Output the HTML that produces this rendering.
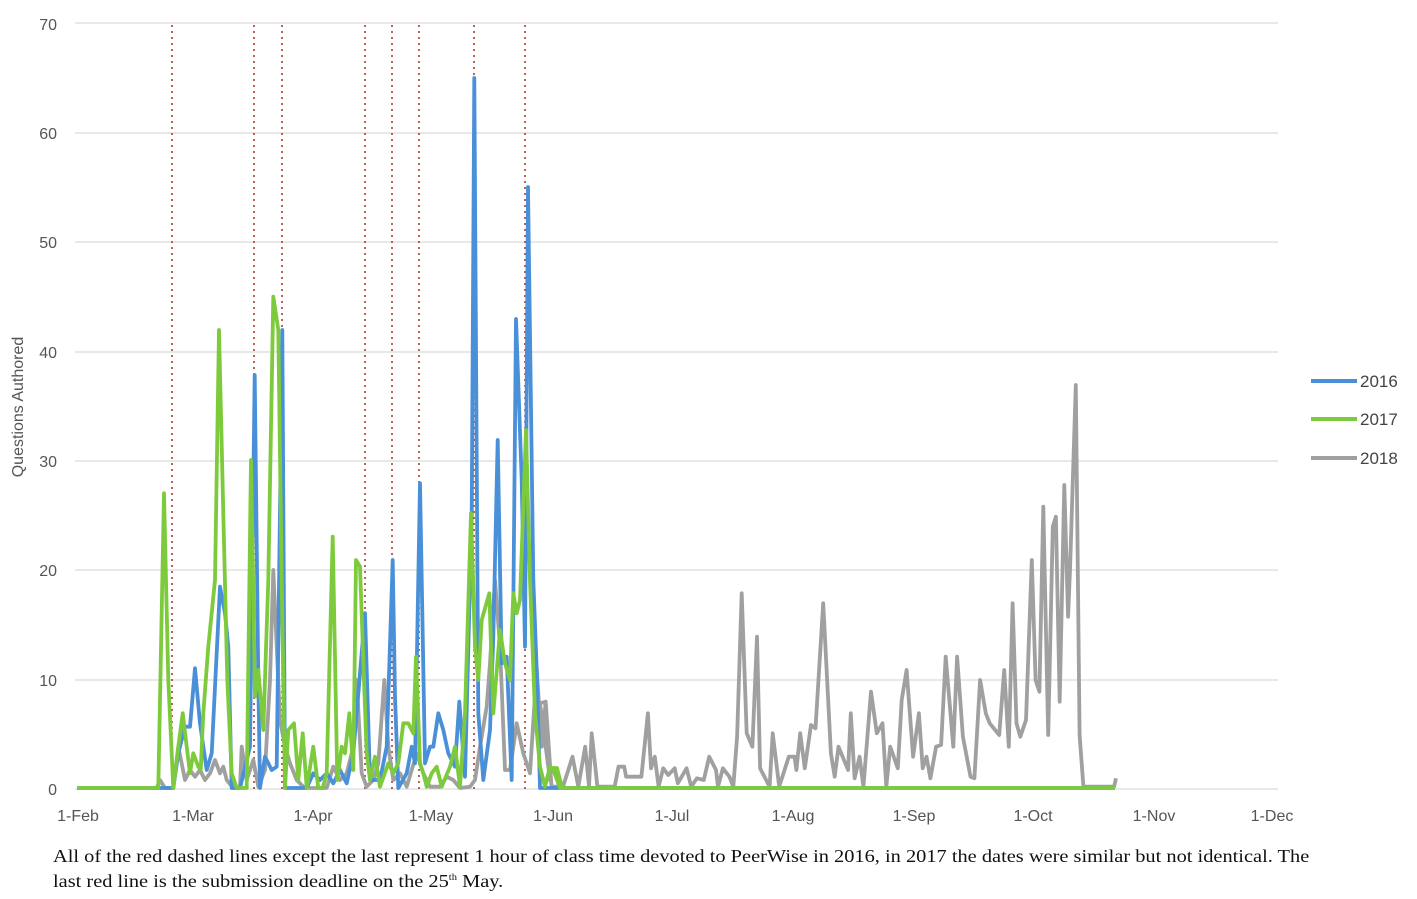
<!DOCTYPE html>
<html><head><meta charset="utf-8"><style>
body{margin:0;background:#fff;width:1417px;height:899px;overflow:hidden;position:relative;font-family:"Liberation Sans",sans-serif}
svg{position:absolute;left:0;top:0}
.cap{position:absolute;left:53px;font-family:"Liberation Serif",serif;font-size:17.5px;color:#111;white-space:nowrap;transform:scaleX(1.165);transform-origin:0 0}
</style></head><body>
<svg id="s" width="1417" height="899" xmlns="http://www.w3.org/2000/svg">
<g stroke="#d9d9d9" stroke-width="1.2">
<line x1="75" x2="1278" y1="23" y2="23"/><line x1="75" x2="1278" y1="133" y2="133"/><line x1="75" x2="1278" y1="242" y2="242"/><line x1="75" x2="1278" y1="352" y2="352"/><line x1="75" x2="1278" y1="461" y2="461"/><line x1="75" x2="1278" y1="570" y2="570"/><line x1="75" x2="1278" y1="680" y2="680"/><line x1="75" x2="1278" y1="789" y2="789"/>
</g>
<g fill="#555" font-size="16" text-anchor="end">
<text x="57" y="30">70</text><text x="57" y="139">60</text><text x="57" y="248">50</text><text x="57" y="358">40</text><text x="57" y="467">30</text><text x="57" y="576">20</text><text x="57" y="686">10</text><text x="57" y="795">0</text>
</g>
<g fill="#555" font-size="16" text-anchor="middle">
<text x="78" y="821">1-Feb</text><text x="193" y="821">1-Mar</text><text x="313" y="821">1-Apr</text><text x="431" y="821">1-May</text><text x="553" y="821">1-Jun</text><text x="672" y="821">1-Jul</text><text x="793" y="821">1-Aug</text><text x="914" y="821">1-Sep</text><text x="1033" y="821">1-Oct</text><text x="1154" y="821">1-Nov</text><text x="1272" y="821">1-Dec</text>
</g>
<text transform="translate(23,407) rotate(-90)" fill="#555" font-size="16" text-anchor="middle">Questions Authored</text>
<g stroke="#b03a2e" stroke-width="1.6" stroke-dasharray="2,4">
<line x1="172" x2="172" y1="25" y2="789"/><line x1="254" x2="254" y1="25" y2="789"/><line x1="282" x2="282" y1="25" y2="789"/><line x1="365" x2="365" y1="25" y2="789"/><line x1="392" x2="392" y1="25" y2="789"/><line x1="419" x2="419" y1="25" y2="789"/><line x1="474" x2="474" y1="25" y2="789"/><line x1="525" x2="525" y1="25" y2="789"/>
</g>
<g id="series" fill="none" stroke-width="3.8" stroke-linejoin="round"></g>
<g stroke-width="4">
<line x1="1311" x2="1357" y1="381" y2="381" stroke="#4a90d9"/>
<line x1="1311" x2="1357" y1="419" y2="419" stroke="#7dcb3c"/>
<line x1="1311" x2="1357" y1="458" y2="458" stroke="#a0a0a0"/>
</g>
<g fill="#444" font-size="17">
<text x="1360" y="387">2016</text><text x="1360" y="425">2017</text><text x="1360" y="464">2018</text>
</g>
</svg>
<div class="cap" style="top:846px">All of the red dashed lines except the last represent 1 hour of class time devoted to PeerWise in 2016, in 2017 the dates were similar but not identical. The</div>
<div class="cap" style="top:871px">last red line is the submission deadline on the 25<sup style="font-size:9px">th</sup> May.</div>
<script>
function z1(a){return a.map(p=>[140+p[0]/3,280+p[1]/3]);}
function z2(a){return a.map(p=>[540+p[0]/2.613,370+p[1]/3]);}
var gray=[[77,788]].concat(z1([[0,1525],[50,1525],[60,1500],[75,1525],[100,1525],[115,1400],[135,1500],[150,1470],[165,1490],[180,1470],[195,1500],[210,1480],[225,1440],[240,1480],[250,1460],[260,1500],[280,1525],[300,1525],[305,1400],[320,1500],[340,1440],[355,1520],[375,1470],[390,1200],[400,870],[410,1100],[420,1320],[435,1400],[450,1450],[470,1500],[490,1520],[510,1525],[560,1525],[580,1460],[600,1500],[620,1480],[640,1400],[650,1200],[665,1480],[680,1520],[700,1500],[715,1450],[733,1200],[745,1400],[760,1500],[780,1480],[800,1520],[830,1420],[850,1480],[870,1520],[900,1520],[920,1490],[940,1500],[960,1525],[990,1520],[1005,1500],[1020,1400],[1040,1280],[1050,1150],[1065,900],[1080,1100],[1095,1470],[1110,1470],[1130,1330],[1150,1420],[1170,1480],[1190,1165],[1205,1400],[1217,1265],[1230,1500]])).concat(z2([[0,1000],[15,995],[30,1250],[60,1250],[85,1160],[100,1250],[118,1130],[128,1250],[135,1090],[150,1250],[195,1250],[205,1190],[220,1190],[225,1220],[265,1220],[282,1030],[290,1195],[300,1160],[310,1250],[322,1195],[335,1215],[352,1195],[360,1240],[383,1195],[395,1250],[410,1225],[428,1230],[442,1160],[460,1200],[465,1250],[478,1195],[495,1220],[505,1250],[515,1100],[527,670],[540,1090],[555,1130],[567,800],[575,1195],[600,1250],[608,1090],[625,1250],[650,1160],[665,1160],[670,1200],[680,1090],[692,1195],[708,1065],[720,1075],[740,700],[760,1150],[770,1220],[780,1130],[805,1200],[812,1030],[822,1225],[835,1160],[845,1250],[865,965],[880,1090],[895,1060],[905,1250],[915,1130],[935,1195],[945,990],[958,900],[975,1160],[990,1030],[1000,1195],[1010,1160],[1020,1225],[1035,1130],[1048,1125],[1060,860],[1080,1130],[1090,860],[1105,1100],[1125,1220],[1135,1225],[1150,930],[1165,1030],[1175,1060],[1200,1095],[1213,900],[1225,1130],[1235,700],[1245,1060],[1255,1100],[1270,1050],[1285,570],[1295,930],[1305,965],[1315,410],[1328,1095],[1340,470],[1348,440],[1358,995],[1370,345],[1380,740],[1385,600],[1400,45],[1410,1095],[1420,1250],[1500,1250],[1505,1225]]));
var blue=[[77,788]].concat(z1([[100,1525],[115,1420],[135,1340],[150,1340],[165,1165],[180,1330],[190,1400],[200,1470],[215,1420],[240,920],[255,1000],[265,1100],[275,1525],[300,1525],[330,1400],[344,285],[355,1200],[360,1525],[375,1430],[395,1470],[410,1460],[427,150],[435,1525],[500,1525],[520,1480],[540,1500],[560,1480],[580,1510],[600,1470],[620,1510],[640,1420],[660,1180],[675,1000],[690,1500],[720,1500],[740,1400],[758,840],[765,1250],[775,1525],[800,1480],[815,1400],[825,1450],[840,610],[855,1450],[870,1400],[880,1400],[895,1300],[910,1350],[925,1420],[945,1460],[958,1265],[975,1490],[995,710],[1003,-606],[1015,1300],[1030,1500],[1050,1350],[1060,1070],[1073,480],[1085,1150],[1100,1130],[1115,1500],[1128,117],[1145,600],[1155,1100],[1164,-279],[1180,900],[1190,1170],[1200,1525]])).concat([[1115,788]]);
var green=[[77,788]].concat(z1([[55,1525],[72,640],[85,1200],[100,1525],[115,1400],[128,1300],[140,1400],[150,1480],[160,1420],[175,1460],[182,1470],[190,1300],[205,1100],[225,900],[237,150],[250,700],[262,1200],[275,1480],[290,1525],[320,1525],[333,540],[345,1250],[355,1170],[370,1350],[385,900],[400,50],[415,150],[425,900],[435,1525],[445,1350],[462,1330],[475,1500],[488,1360],[500,1525],[520,1400],[535,1525],[548,1525],[560,1480],[578,770],[592,1500],[605,1400],[615,1420],[628,1300],[640,1470],[648,840],[660,860],[672,1200],[680,1420],[690,1500],[705,1430],[720,1520],[745,1450],[760,1480],[775,1450],[790,1330],[805,1330],[820,1360],[828,1130],[840,1450],[850,1480],[860,1520],[875,1480],[890,1460],[905,1520],[930,1460],[945,1400],[960,1520],[975,1300],[993,700],[1005,1100],[1015,1200],[1025,1020],[1048,940],[1060,1300],[1080,1050],[1095,1150],[1110,1200],[1120,940],[1130,1000],[1140,960],[1158,450],[1170,900],[1185,1300],[1200,1460],[1215,1520],[1230,1460],[1240,1470],[1260,1525]])).concat([[553,768],[557,768],[562,788],[1115,788]]);
var g=document.getElementById('series');
function add(pts,c){var p=document.createElementNS('http://www.w3.org/2000/svg','polyline');p.setAttribute('points',pts.map(q=>q[0].toFixed(1)+','+Math.min(788,q[1]).toFixed(1)).join(' '));p.setAttribute('stroke',c);g.appendChild(p);}
add(gray,'#a0a0a0');add(blue,'#4a90d9');add(green,'#7dcb3c');
</script>
</body></html>
